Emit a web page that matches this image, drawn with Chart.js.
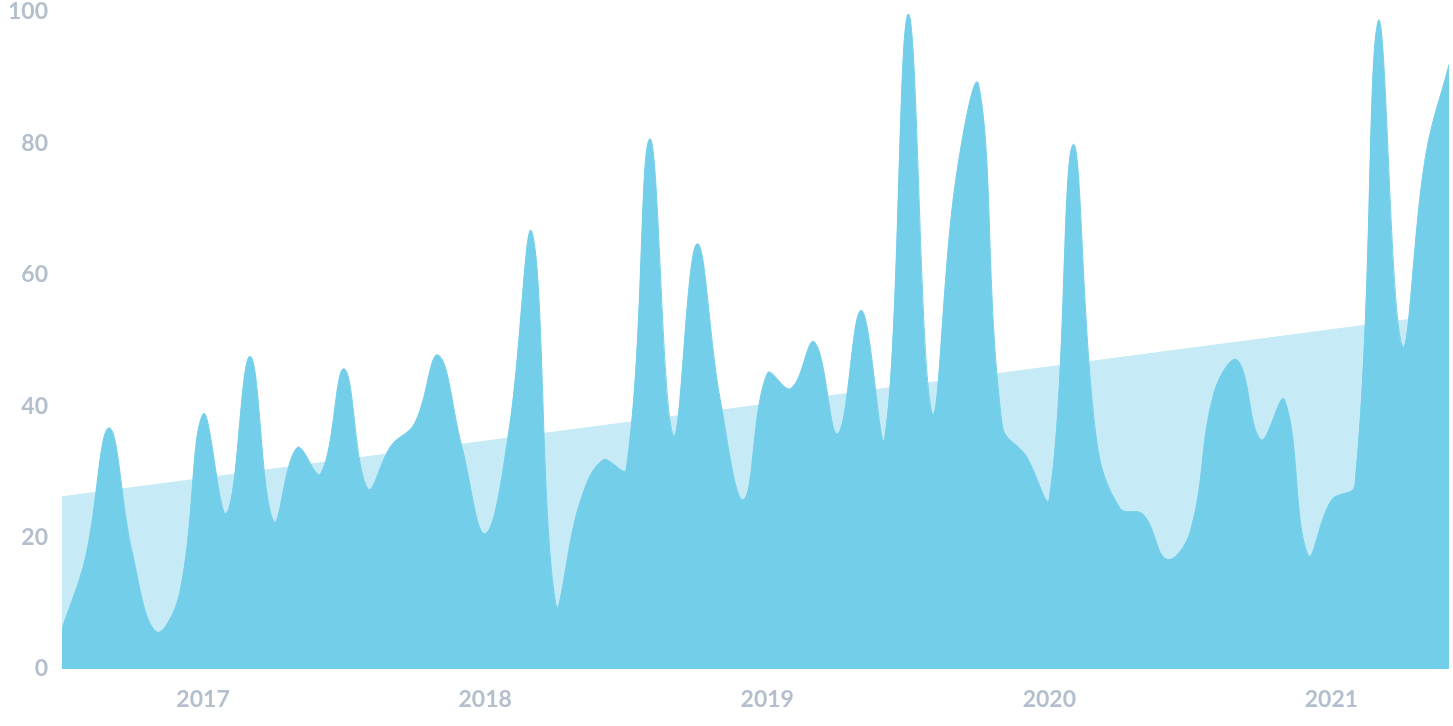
<!DOCTYPE html>
<html>
<head>
<meta charset="utf-8">
<script src="https://cdn.jsdelivr.net/npm/chart.js@4/dist/chart.umd.min.js"></script>
<style>
  html, body { margin: 0; padding: 0; background: #ffffff; }
  #wrap { width: 1453px; height: 726px; position: relative; }
</style>
</head>
<body>
<div id="wrap"><canvas id="c"></canvas></div>
<script>
// ---- data ----
const months = [
  '2016-07','2016-08','2016-09','2016-10','2016-11','2016-12',
  '2017-01','2017-02','2017-03','2017-04','2017-05','2017-06','2017-07','2017-08','2017-09','2017-10','2017-11','2017-12',
  '2018-01','2018-02','2018-03','2018-04','2018-05','2018-06','2018-07','2018-08','2018-09','2018-10','2018-11','2018-12',
  '2019-01','2019-02','2019-03','2019-04','2019-05','2019-06','2019-07','2019-08','2019-09','2019-10','2019-11','2019-12',
  '2020-01','2020-02','2020-03','2020-04','2020-05','2020-06','2020-07','2020-08','2020-09','2020-10','2020-11','2020-12',
  '2021-01','2021-02','2021-03','2021-04','2021-05','2021-06'
];
const values = [
  6.1, 17, 36.7, 17.5, 5.7, 11.5,
  38.8, 23.7, 47.6, 22.5, 33.7, 29.7, 45.7, 27.5, 34, 37.4, 47.8, 34,
  20.6, 36, 66.4, 10, 25, 31.8, 30.4, 80.7, 35.6, 64.7, 41, 25.8,
  45, 42.7, 49.8, 35.8, 54.6, 35.2, 99.7, 39.1, 74, 88.8, 37, 32.5,
  26, 79.8, 35, 24.5, 23.5, 16.7, 21, 42, 47, 34.9, 41, 17.4,
  25.7, 28, 98.8, 49.3, 78, 92
];
const trendMonths = ['2016-07', '2021-06'];
const trendValues = [26.2, 54.0];
const yearTicks = ['2017', '2018', '2019', '2020', '2021'];
const yTicks = [0, 20, 40, 60, 80, 100];

// ---- chart ----
const tickFont = { family: 'Lato', size: 23, weight: '700' };
const tickColor = '#b3bfcc';

new Chart(document.getElementById('c'), {
  type: 'line',
  data: {
    labels: months,
    datasets: [
      {
        label: 'value',
        data: values,
        order: 0,
        fill: 'origin',
        backgroundColor: '#73ceea',
        borderColor: '#73ceea',
        borderWidth: 1,
        pointRadius: 0,
        tension: 0.4
      },
      {
        label: 'trend',
        data: trendMonths.map((m, i) => ({ x: m, y: trendValues[i] })),
        order: 1,
        fill: 'origin',
        backgroundColor: '#c6ebf6',
        borderColor: '#c6ebf6',
        borderWidth: 1,
        pointRadius: 0,
        tension: 0
      }
    ]
  },
  options: {
    responsive: true,
    maintainAspectRatio: false,
    animation: false,
    layout: { padding: { top: 12, right: 4, left: 0, bottom: 0 } },
    plugins: { legend: { display: false }, tooltip: { enabled: false } },
    scales: {
      x: {
        type: 'category',
        offset: false,
        grid: { display: false },
        border: { display: false },
        ticks: {
          autoSkip: false,
          maxRotation: 0,
          font: tickFont,
          color: tickColor,
          padding: 9,
          callback: function (value) {
            const lab = this.getLabelForValue(value);
            const y = lab.slice(0, 4);
            return (lab.endsWith('-01') && yearTicks.includes(y)) ? y : null;
          }
        },
        afterFit: (s) => { s.height = 57; s.paddingLeft = 0; s.paddingRight = 0; }
      },
      y: {
        min: 0,
        max: 100,
        grid: { display: false },
        border: { display: false },
        afterBuildTicks: (s) => { s.ticks = yTicks.map(v => ({ value: v })); },
        ticks: {
          font: tickFont,
          color: tickColor,
          padding: 6
        },
        afterFit: (s) => { s.width = 62; s.paddingTop = 0; s.paddingBottom = 0; }
      }
    }
  }
});
</script>
</body>
</html>
